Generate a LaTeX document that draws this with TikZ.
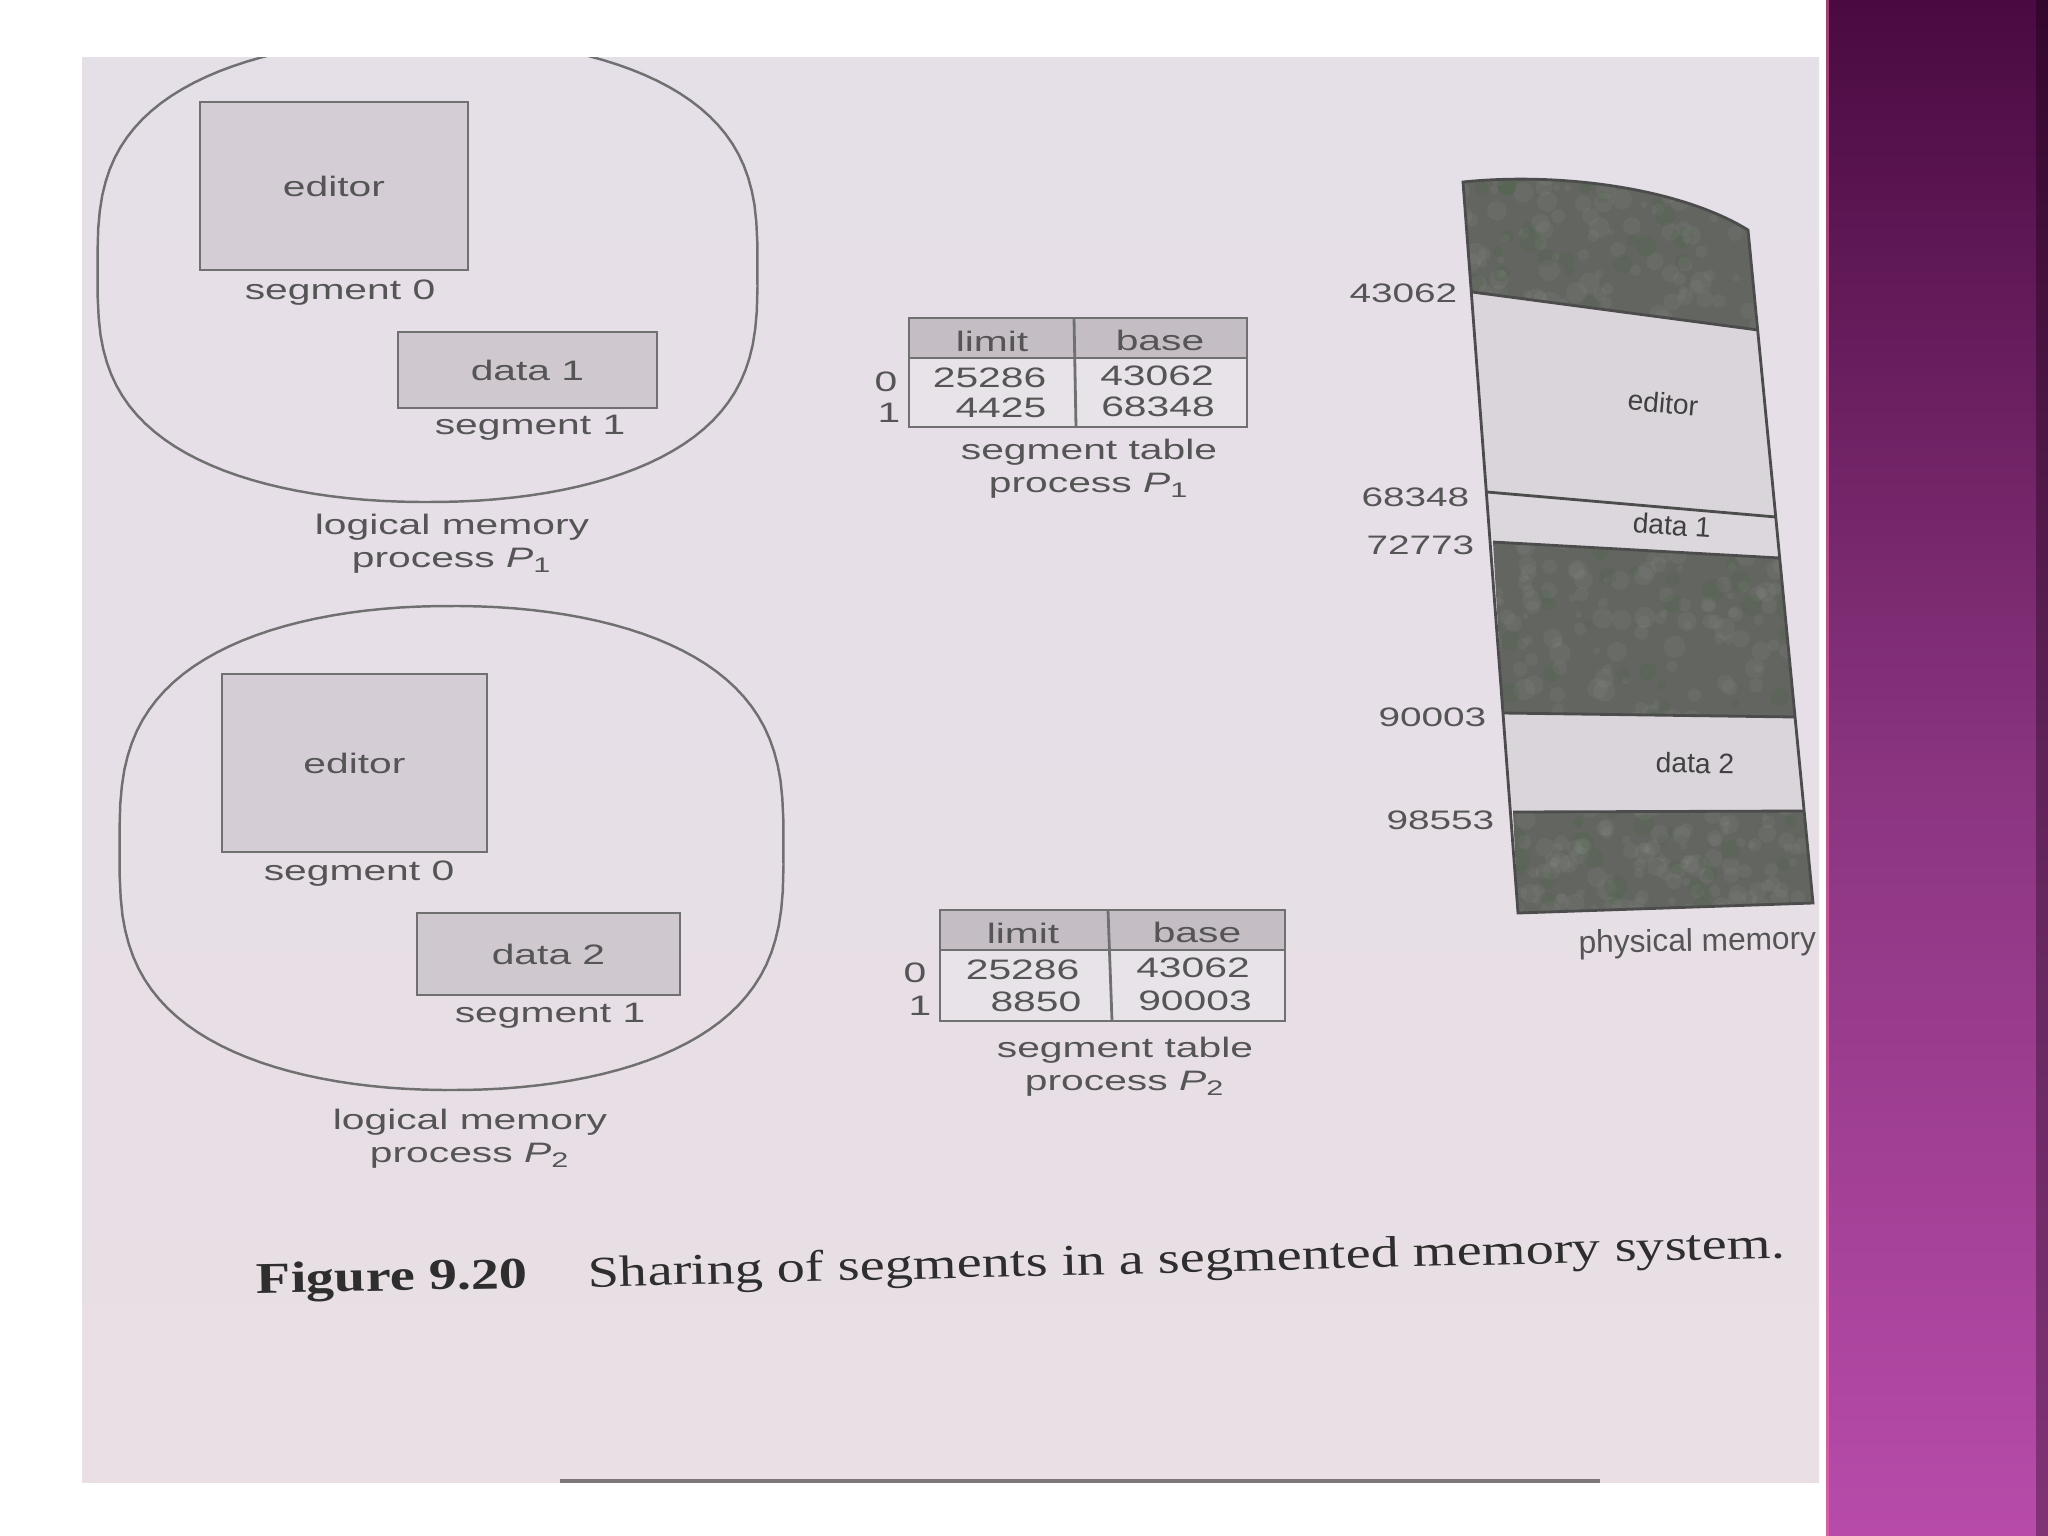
\documentclass[tikz,border=0pt]{standalone}
\usepackage{fontspec}
\setmainfont{Liberation Sans}
\newfontfamily\figfont{Liberation Sans}[FakeStretch=1.45]
\newfontfamily\pmfont{Liberation Sans}
\newfontfamily\capfont{Liberation Serif}[FakeStretch=1.28]
\definecolor{pagetop}{HTML}{E5DFE8}
\definecolor{pagebot}{HTML}{E9DFE5}
\definecolor{purtop}{HTML}{4A0A41}
\definecolor{purmid}{HTML}{8A347F}
\definecolor{purbot}{HTML}{B84BAA}
\definecolor{lineg}{HTML}{707070}
\definecolor{boxfill}{HTML}{D5CDD6}
\definecolor{datafill}{HTML}{CFC9CF}
\definecolor{txtg}{HTML}{555555}
\definecolor{headfill}{HTML}{C4BEC4}
\definecolor{cellfill}{HTML}{E8E3E9}
\definecolor{darkmem}{HTML}{636560}
\definecolor{lightmem}{HTML}{DAD5DA}
\definecolor{captxt}{HTML}{2E2E2E}
\tikzset{
  lbl/.style={font=\figfont\fontsize{8}{9.4}\selectfont, text=txtg, inner sep=0pt, align=center},
  segbox/.style={draw=lineg, line width=0.8pt, inner sep=0pt},
  blobline/.style={draw=lineg, line width=0.7pt},
  tabline/.style={draw=lineg, line width=0.8pt},
  numlbl/.style={font=\figfont\fontsize{7.6}{9}\selectfont, text=txtg, inner sep=0pt, anchor=east},
  memlbl/.style={font=\pmfont\fontsize{8}{9}\selectfont, text=black!75, inner sep=0pt},
  memline/.style={draw=black!70, line width=0.8pt},
  captext/.style={font=\capfont\fontsize{12.5}{14}\selectfont, text=captxt, inner sep=0pt},
}
\newcommand\memtexture[4]{% xmin ymin xmax ymax
  \foreach \k in {1,...,120}{%
    \pgfmathsetmacro\px{#1+rnd*(#3-#1)}%
    \pgfmathsetmacro\py{#2+rnd*(#4-#2)}%
    \pgfmathsetmacro\pr{3+rnd*8}%
    \fill[white,opacity=0.04] (\px,\py) circle[radius=\pr];
  }%
  \foreach \k in {1,...,30}{%
    \pgfmathsetmacro\px{#1+rnd*(#3-#1)}%
    \pgfmathsetmacro\py{#2+rnd*(#4-#2)}%
    \pgfmathsetmacro\pr{4+rnd*8}%
    \fill[green!40!black,opacity=0.06] (\px,\py) circle[radius=\pr];
  }%
}
\begin{document}
\begin{tikzpicture}[x=0.01cm,y=-0.01cm]
\pgfmathsetseed{7}
\useasboundingbox (0,0) rectangle (2048,1536);
\fill[white] (0,0) rectangle (2048,1536);
% photo page
\shade[top color=pagetop,bottom color=pagebot] (82,57) rectangle (1819,1482);
\draw[black!80, line width=1.2pt, opacity=.6] (560,1481) -- (1600,1481);
% purple side bar
\shade[top color=purtop,bottom color=purbot,middle color=purmid] (1826,0) rectangle (2048,1536);
\fill[black,opacity=0.3] (2036,0) rectangle (2048,1536);
\fill[magenta!40!pink,opacity=0.5] (1826,0) rectangle (1829,1536);

% logical memory blobs
\begin{scope}
\clip (82,57) rectangle (1819,1482);
\draw[blobline] plot[domain=1:361,samples=121]
  ({427.5+330*sign(cos(\x))*abs(cos(\x))^0.95},{270+232*sign(sin(\x))*abs(sin(\x))^0.65}) -- cycle;
\end{scope}
\draw[blobline] plot[domain=1:361,samples=121]
  ({451.5+332*sign(cos(\x))*abs(cos(\x))^0.95},{848+242*sign(sin(\x))*abs(sin(\x))^0.65}) -- cycle;

% process 1 segments
\node[segbox, fill=boxfill, minimum width=2.68cm, minimum height=1.68cm, lbl] (ed1) at (334,186) {editor};
\node[lbl] (s10) at (340,293) {segment 0};
\node[segbox, fill=datafill, minimum width=2.59cm, minimum height=0.76cm, lbl] (da1) at (527.5,370) {data 1};
\node[lbl] (s11) at (530,428) {segment 1};
\node[lbl] (lm1) at (452,544) {logical memory\\process \textit{P}\textsubscript{1}};

% process 2 segments
\node[segbox, fill=boxfill, minimum width=2.65cm, minimum height=1.78cm, lbl] (ed2) at (354.5,763) {editor};
\node[lbl] (s20) at (359,874) {segment 0};
\node[segbox, fill=datafill, minimum width=2.63cm, minimum height=0.82cm, lbl] (da2) at (548.5,954) {data 2};
\node[lbl] (s21) at (550,1016) {segment 1};
\node[lbl] (lm2) at (470,1139) {logical memory\\process \textit{P}\textsubscript{2}};

% segment table P1
\fill[cellfill] (909,318) rectangle (1247,427);
\fill[headfill] (909,318) rectangle (1247,358);
\draw[tabline] (909,318) rectangle (1247,427);
\draw[tabline] (909,358) -- (1247,358);
\draw[tabline] (1074,318) -- (1076,427);
\node[lbl] (t1l) at (992,341) {limit};
\node[lbl] (t1b) at (1160,340) {base};
\node[lbl, anchor=east] (t1a) at (1047,378) {25286};
\node[lbl, anchor=east] (t1c) at (1047,408) {4425};
\node[lbl] (t1d) at (1157,376) {43062};
\node[lbl] (t1e) at (1158,407) {68348};
\node[lbl] (t1i0) at (886,382) {0};
\node[lbl] (t1i1) at (889,413) {1};
\node[lbl] (t1cap) at (1089,469) {segment table\\process \textit{P}\textsubscript{1}};

% segment table P2
\fill[cellfill] (940,910) rectangle (1285,1021);
\fill[headfill] (940,910) rectangle (1285,950);
\draw[tabline] (940,910) rectangle (1285,1021);
\draw[tabline] (940,950) -- (1285,950);
\draw[tabline] (1108,910) -- (1112,1021);
\node[lbl] (t2l) at (1023,933) {limit};
\node[lbl] (t2b) at (1197,932) {base};
\node[lbl, anchor=east] (t2a) at (1080,970) {25286};
\node[lbl, anchor=east] (t2c) at (1082,1002) {8850};
\node[lbl] (t2d) at (1193,968) {43062};
\node[lbl] (t2e) at (1195,1001) {90003};
\node[lbl] (t2i0) at (915,973) {0};
\node[lbl] (t2i1) at (920,1006) {1};
\node[lbl] (t2cap) at (1125,1067) {segment table\\process \textit{P}\textsubscript{2}};

% physical memory column
\coordinate (TL) at (1463,182); \coordinate (TR) at (1748,230);
\coordinate (L1) at (1472,292); \coordinate (R1) at (1758,330);
\coordinate (L2) at (1487,492); \coordinate (R2) at (1776,517);
\coordinate (L3) at (1493,542); \coordinate (R3) at (1780,558);
\coordinate (L4) at (1503,713); \coordinate (R4) at (1795,717);
\coordinate (L5) at (1513,812); \coordinate (R5) at (1803,811);
\coordinate (L6) at (1518,913); \coordinate (R6) at (1813,903);
\fill[lightmem] (L1) -- (R1) -- (R2) -- (L2) -- cycle;
\fill[lightmem!95!white] (L2) -- (R2) -- (R3) -- (L3) -- cycle;
\fill[lightmem] (L4) -- (R4) -- (R5) -- (L5) -- cycle;
\begin{scope}
\clip (TL) .. controls (1560,172) and (1680,188) .. (TR) -- (R1) -- (L1) -- cycle;
\fill[darkmem] (1450,160) rectangle (1770,340);
\memtexture{1460}{170}{1770}{335}
\end{scope}
\begin{scope}
\clip (L3) -- (R3) -- (R4) -- (L4) -- cycle;
\fill[darkmem] (1480,530) rectangle (1800,720);
\memtexture{1480}{535}{1800}{720}
\end{scope}
\begin{scope}
\clip (L5) -- (R5) -- (R6) -- (L6) -- cycle;
\fill[darkmem] (1500,800) rectangle (1820,920);
\memtexture{1500}{805}{1820}{915}
\end{scope}
\draw[memline] (TL) .. controls (1560,172) and (1680,188) .. (TR) -- (R6) -- (L6) -- cycle;
\draw[memline] (L1) -- (R1);
\draw[memline] (L2) -- (R2);
\draw[memline] (L3) -- (R3);
\draw[memline] (L4) -- (R4);
\draw[memline] (L5) -- (R5);
\node[memlbl, rotate=-5] (pmed) at (1663,403) {editor};
\node[memlbl, rotate=-4] (pmd1) at (1672,525) {data 1};
\node[memlbl, rotate=-1] (pmd2) at (1695,763) {data 2};
\node[numlbl] (n1) at (1458,293) {43062};
\node[numlbl] (n2) at (1470,497) {68348};
\node[numlbl] (n3) at (1475,545) {72773};
\node[numlbl] (n4) at (1487,717) {90003};
\node[numlbl] (n5) at (1495,820) {98553};
\node[font=\pmfont\fontsize{9}{10}\selectfont, text=txtg, inner sep=0pt, anchor=west, rotate=1] (pmcap) at (1578,945) {physical memory};

% caption
\node[captext, anchor=base west, rotate=1] (figno) at (256,1293) {\bfseries Figure 9.20};
\node[captext, anchor=base west, rotate=1.4] (figcap) at (588,1287) {Sharing of segments in a segmented memory system.};
\end{tikzpicture}
\end{document}
